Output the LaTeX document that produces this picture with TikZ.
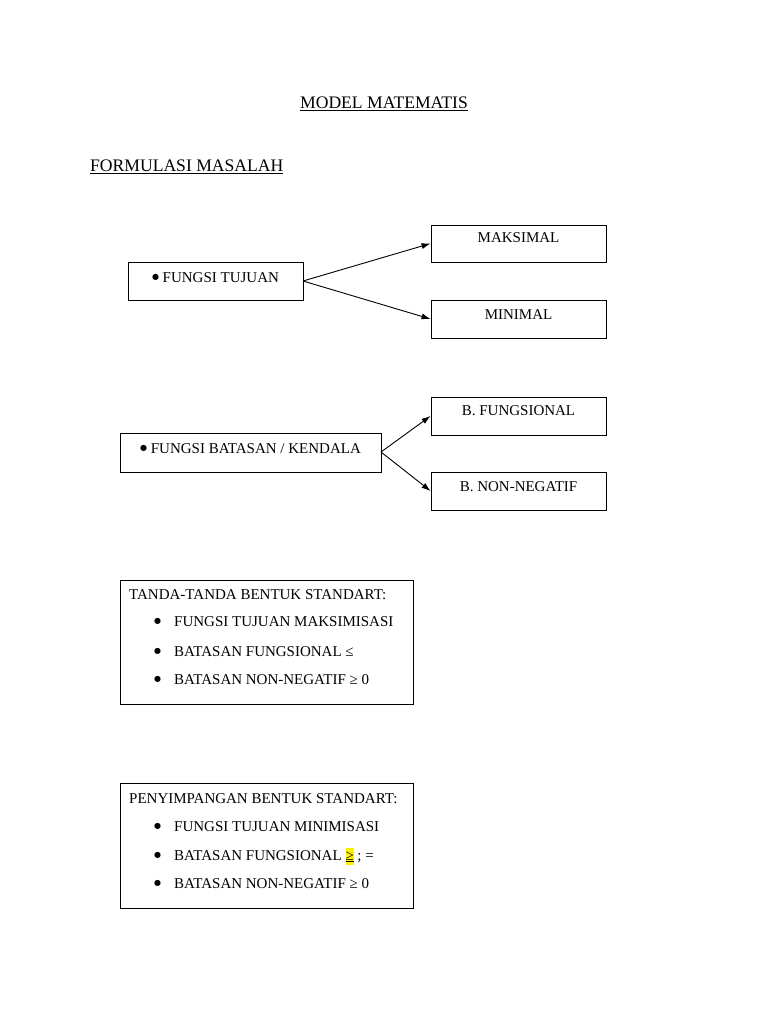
\documentclass[tikz,border=0pt]{standalone}
\usepackage{fontspec}
\setmainfont{Liberation Serif}
\newfontfamily\dvfont{DejaVu Sans}
\newcommand{\bul}{\raisebox{2.6pt}{\dvfont\fontsize{8}{8}\selectfont ●}}
\usetikzlibrary{arrows.meta}
\begin{document}
\begin{tikzpicture}[x=1pt,y=-1pt,
  every node/.style={font=\fontsize{15}{18}\selectfont, inner sep=0pt},
  big/.style={font=\fontsize{17.6}{20}\selectfont},
  box/.style={draw, line width=0.9pt},
  arr/.style={line width=0.9pt, -{Latex[length=9pt,width=6pt]}},
  txt/.style={anchor=base},
  ltxt/.style={anchor=base west}]
\useasboundingbox (0,0) rectangle (768,1024);
% titles
\node[txt, big] (title) at (384,109) {\underline{MODEL MATEMATIS}};
\node[ltxt, big] (sub) at (90,172) {\underline{FORMULASI MASALAH}};
% boxes first group
\node[box, minimum width=175pt, minimum height=38pt] (ft) at (215.5,281) {};
\node[txt] (ftt) at (215.5,282) {\bul\ FUNGSI TUJUAN};
\node[box, minimum width=175pt, minimum height=37pt] (mak) at (518.5,243.5) {};
\node[txt] (makt) at (518.5,243) {MAKSIMAL};
\node[box, minimum width=175pt, minimum height=38pt] (min) at (518.5,319) {};
\node[txt] (mint) at (518.5,319) {MINIMAL};
\coordinate (fto) at (303,281);
\draw[arr] (fto) -- (mak.west);
\draw[arr] (fto) -- (min.west);
% second group
\node[box, minimum width=261pt, minimum height=39pt] (fb) at (250.5,452.5) {};
\node[txt] (fbt) at (250.5,453) {\bul\ FUNGSI BATASAN / KENDALA};
\node[box, minimum width=175pt, minimum height=38pt] (bf) at (518.5,416) {};
\node[txt] (bft) at (518.5,415) {B. FUNGSIONAL};
\node[box, minimum width=175pt, minimum height=38pt] (bn) at (518.5,491) {};
\node[txt] (bnt) at (518.5,491) {B. NON-NEGATIF};
\coordinate (fbo) at (381,452);
\draw[arr] (fbo) -- (bf.west);
\draw[arr] (fbo) -- (bn.west);
% standard box
\node[box, minimum width=293pt, minimum height=124pt] (std) at (266.5,642) {};
\node[ltxt] (s0) at (129,599) {TANDA-TANDA BENTUK STANDART:};
\node[ltxt] (s1b) at (154,626) {\bul};
\node[ltxt] (s1) at (174,626) {FUNGSI TUJUAN MAKSIMISASI};
\node[ltxt] (s2b) at (154,656) {\bul};
\node[ltxt] (s2) at (174,656) {BATASAN FUNGSIONAL ≤};
\node[ltxt] (s3b) at (154,684) {\bul};
\node[ltxt] (s3) at (174,684) {BATASAN NON-NEGATIF ≥ 0};
% deviation box
\node[box, minimum width=293pt, minimum height=125pt] (dev) at (266.5,845.5) {};
\node[ltxt] (d0) at (129,803) {PENYIMPANGAN BENTUK STANDART:};
\node[ltxt] (d1b) at (154,831) {\bul};
\node[ltxt] (d1) at (174,831) {FUNGSI TUJUAN MINIMISASI};
\node[ltxt] (d2b) at (154,860) {\bul};
\node[ltxt] (d2) at (174,860) {BATASAN FUNGSIONAL \colorbox{yellow}{\kern-3pt\underline{≥}\kern-3pt} ; =};
\node[ltxt] (d3b) at (154,888) {\bul};
\node[ltxt] (d3) at (174,888) {BATASAN NON-NEGATIF ≥ 0};
\end{tikzpicture}
\end{document}
